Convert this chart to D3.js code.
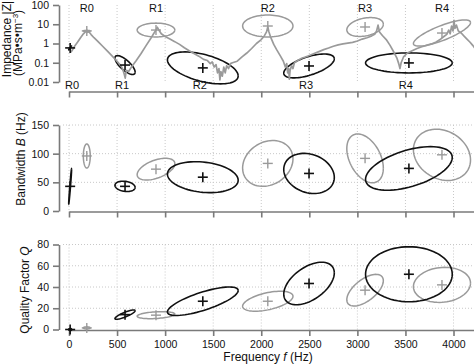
<!DOCTYPE html>
<html><head><meta charset="utf-8">
<script src="https://cdn.jsdelivr.net/npm/d3@7"></script>
<style>
html,body{margin:0;padding:0;background:#fff;}
svg{display:block;font-family:"Liberation Sans",Arial,Helvetica,sans-serif;}
</style></head>
<body>
<svg id="chart" width="474" height="364"></svg>
<script>
// ---------- data ----------
const freqTicks = [0, 500, 1000, 1500, 2000, 2500, 3000, 3500, 4000];
const zTicks = [0.01, 0.1, 1, 10, 100];
const zTickLabels = ["0.01", "0.1", "1", "10", "100"];
const bTicks = [0, 50, 100, 150];
const qTicks = [0, 20, 40, 60, 80];

const modeLabels = ["R0", "R1", "R2", "R3", "R4"];

// resonances (grey) and anti-resonances (black): centre frequency and spread (Hz)
const resFreq = [185, 905, 2068, 3080, 3880];
const resFreqSpread = [36, 196, 262, 190, 297];
const antiFreq = [12, 583, 1392, 2497, 3536];
const antiFreqSpread = [15, 105, 368, 263, 451];

// impedance panel (spread in decades)
const resZ = [4.5, 5.0, 8.1, 7.2, 3.5];
const resZSpread = [0.03, 0.36, 0.57, 0.49, 0.68];
const resZCorr = [0, 0, 0, 0.3, 0.8];
const antiZ = [0.59, 0.076, 0.054, 0.068, 0.098];
const antiZSpread = [0.1, 0.49, 0.83, 0.62, 0.52];
const antiZCorr = [0.95, -0.75, -0.5, 0.6, 0];

// bandwidth panel
const resB = [96, 73, 83, 91.8, 98];
const resBSpread = [21, 19, 40, 42.6, 44.7];
const resBCorr = [0, 0.5, 0.2, -0.4, -0.2];
const antiB = [43, 43, 59, 65.5, 74.3];
const antiBSpread = [30.5, 9, 27, 35, 38];
const antiBCorr = [0.97, -0.2, -0.2, -0.2, 0.5];

// quality factor panel
const resQ = [1.5, 13.5, 26.6, 37, 42];
const resQSpread = [1, 3.3, 9.4, 14.9, 16.5];
const resQCorr = [0, 0.3, 0.5, 0.6, 0.1];
const antiQ = [0, 14, 26.6, 43.3, 52];
const antiQSpread = [1, 4.4, 13.4, 20, 25.9];
const antiQCorr = [0, 0.85, 0.75, 0.5, 0];

// measured impedance curve
const impFreq = [20,40,60,90,120,150,170,185,195,205,230,260,300,350,400,450,500,540,560,575,585,592,600,620,650,700,750,800,850,880,905,918,930,960,1000,1050,1100,1150,1200,1250,1300,1350,1400,1440,1470,1490,1510,1530,1545,1560,1570,1580,1595,1610,1625,1640,1660,1680,1700,1750,1800,1850,1900,1950,2000,2030,2055,2068,2080,2100,2130,2160,2200,2230,2250,2265,2275,2285,2292,2300,2315,2330,2345,2380,2420,2460,2500,2550,2600,2650,2700,2750,2800,2850,2900,2950,3000,3050,3100,3150,3180,3200,3215,3230,3260,3300,3340,3380,3410,3430,3443,3455,3480,3520,3570,3620,3670,3720,3770,3820,3860,3900,3930,3950,3965,3980,3995,4005,4015,4030,4050,4080,4110,4140,4170,4200,4230];
const impMag = [0.35,0.5,0.75,1.2,2.0,3.2,4.0,4.6,3.8,4.2,2.9,2.0,1.3,0.72,0.40,0.22,0.12,0.07,0.045,0.025,0.016,0.03,0.04,0.035,0.06,0.13,0.3,0.75,1.8,3.2,5.0,7.0,5.5,3.2,2.3,1.7,1.25,0.9,0.6,0.42,0.3,0.22,0.15,0.13,0.09,0.11,0.06,0.08,0.03,0.05,0.013,0.035,0.02,0.06,0.03,0.07,0.05,0.09,0.1,0.12,0.2,0.32,0.55,1.0,1.6,2.4,4.0,7.2,4.0,2.0,0.9,0.48,0.22,0.12,0.06,0.09,0.03,0.05,0.014,0.04,0.07,0.05,0.1,0.13,0.17,0.2,0.24,0.3,0.38,0.48,0.58,0.72,0.85,0.95,1.05,1.15,1.35,1.7,2.0,2.5,3.0,4.5,9.0,4.0,2.6,1.6,0.8,0.35,0.18,0.09,0.05,0.1,0.2,0.32,0.42,0.55,0.68,0.8,0.95,1.2,1.6,2.3,3.0,5.0,3.2,8.0,4.5,16,6,9,4.5,3.5,2.4,1.7,1.2,0.8,0.5];

// ---------- drawing ----------
const GREY = "#9a9a9a", AXIS = "#7a7a7a", GRID = "#c8c8c8";
const svg = d3.select("#chart");

const x = d3.scaleLinear().domain([0, 4260]).range([69, 478.5]);
const yZ = d3.scaleLog().domain([0.01, 100]).range([82, 5]);
const yB = d3.scaleLinear().domain([0, 150]).range([211, 125]);
const yQ = d3.scaleLinear().domain([0, 80]).range([329.5, 244.5]);

const yAxisX = 59;
const panels = [
  {y: yZ, axisY: 91.5, ticks: zTicks, fmt: (d,i) => zTickLabels[i], hgrid: false, xlabels: false},
  {y: yB, axisY: 211.5, ticks: bTicks, fmt: d3.format("d"), hgrid: true, xlabels: false},
  {y: yQ, axisY: 330, ticks: qTicks, fmt: d3.format("d"), hgrid: true, xlabels: true}
];

panels.forEach(p => {
  const [y0, y1] = p.y.range();
  const g = svg.append("g");
  g.selectAll("line.vg").data(freqTicks).enter().append("line")
    .attr("x1", d => x(d)).attr("x2", d => x(d))
    .attr("y1", y1).attr("y2", y0)
    .attr("stroke", GRID).attr("stroke-width", 1).attr("stroke-dasharray", "1,2");
  if (p.hgrid) {
    g.selectAll("line.hg").data(p.ticks.filter(t => t > 0)).enter().append("line")
      .attr("x1", 63).attr("x2", 474)
      .attr("y1", d => p.y(d)).attr("y2", d => p.y(d))
      .attr("stroke", GRID).attr("stroke-width", 1).attr("stroke-dasharray", "1,2");
  }
  const ya = svg.append("g").attr("transform", `translate(${yAxisX},0)`)
    .call(d3.axisLeft(p.y).tickValues(p.ticks).tickFormat(p.fmt).tickSize(6).tickSizeOuter(0).tickPadding(4));
  const xa = svg.append("g").attr("transform", `translate(0,${p.axisY})`)
    .call(d3.axisBottom(x).tickValues(freqTicks).tickFormat(p.xlabels ? d3.format("d") : "").tickSize(6).tickSizeOuter(0).tickPadding(5));
  [ya, xa].forEach(a => {
    a.selectAll("path.domain").attr("stroke", AXIS).attr("stroke-width", 1.6);
    a.selectAll(".tick line").attr("stroke", AXIS).attr("stroke-width", 1.6);
    a.selectAll(".tick text").attr("fill", "#111").style("font-size", "10.5px").style("font-family", '"Liberation Sans",Arial,sans-serif');
  });
});

function ellipsePath(cf, sf, cv, sv, rho, yScale, isLog) {
  const pts = d3.range(0, 73).map(i => {
    const t = i / 72 * 2 * Math.PI;
    const f = cf + sf * Math.cos(t);
    const u = sv * (rho * Math.cos(t) + Math.sqrt(1 - rho * rho) * Math.sin(t));
    const v = isLog ? Math.pow(10, Math.log10(cv) + u) : cv + u;
    return [x(f), yScale(v)];
  });
  return d3.line()(pts);
}
function drawSet(freqs, fSpread, vals, vSpread, corr, yScale, isLog, color, width) {
  const g = svg.append("g");
  g.selectAll("path").data(freqs).enter().append("path")
    .attr("d", (d, i) => ellipsePath(d, fSpread[i], vals[i], vSpread[i], corr[i], yScale, isLog))
    .attr("fill", "none").attr("stroke", color).attr("stroke-width", width);
}
function drawCrosses(freqs, vals, yScale, color, width) {
  const g = svg.append("g");
  freqs.forEach((f, i) => {
    const cx = x(f), cy = yScale(vals[i]);
    g.append("line").attr("x1", cx - 5).attr("x2", cx + 5).attr("y1", cy).attr("y2", cy)
      .attr("stroke", color).attr("stroke-width", width);
    g.append("line").attr("x1", cx).attr("x2", cx).attr("y1", cy - 5).attr("y2", cy + 5)
      .attr("stroke", color).attr("stroke-width", width);
  });
}

drawSet(resFreq, resFreqSpread, resZ, resZSpread, resZCorr, yZ, true, GREY, 1.5);
drawSet(antiFreq, antiFreqSpread, antiZ, antiZSpread, antiZCorr, yZ, true, "#111", 1.6);
svg.append("path")
  .datum(impFreq.map((f, i) => [f, impMag[i]]))
  .attr("d", d3.line().x(d => x(d[0])).y(d => yZ(d[1])))
  .attr("fill", "none").attr("stroke", GREY).attr("stroke-width", 1.7).attr("stroke-linejoin", "round");
drawCrosses(resFreq, resZ, yZ, GREY, 1.4);
drawCrosses(antiFreq, antiZ, yZ, "#111", 1.6);

drawSet(resFreq, resFreqSpread, resB, resBSpread, resBCorr, yB, false, GREY, 1.5);
drawSet(antiFreq, antiFreqSpread, antiB, antiBSpread, antiBCorr, yB, false, "#111", 1.6);
drawCrosses(resFreq, resB, yB, GREY, 1.4);
drawCrosses(antiFreq, antiB, yB, "#111", 1.6);

drawSet(resFreq, resFreqSpread, resQ, resQSpread, resQCorr, yQ, false, GREY, 1.5);
drawSet(antiFreq, antiFreqSpread, antiQ, antiQSpread, antiQCorr, yQ, false, "#111", 1.6);
drawCrosses(resFreq, resQ, yQ, GREY, 1.4);
drawCrosses(antiFreq, antiQ, yQ, "#111", 1.6);

svg.append("g").selectAll("text").data(modeLabels).enter().append("text")
  .attr("x", (d, i) => x(resFreq[i])).attr("y", 12)
  .attr("text-anchor", "middle").style("font-size", "11px").attr("fill", "#111").text(d => d);
svg.append("g").selectAll("text").data(modeLabels).enter().append("text")
  .attr("x", (d, i) => x(antiFreq[i]) + (i === 0 ? 2 : -3)).attr("y", 89)
  .attr("text-anchor", "middle").style("font-size", "11px").attr("fill", "#111").text(d => d);

function vtitle(cx, cy, build) {
  const t = svg.append("text").attr("transform", `translate(${cx},${cy}) rotate(-90)`)
    .attr("text-anchor", "middle").style("font-size", "12px").attr("fill", "#111");
  build(t);
}
vtitle(11, 39, t => t.text("Impedance |Z|"));
vtitle(22, 43, t => {
  t.append("tspan").text("(MPa\u2022s\u2022m");
  t.append("tspan").attr("dy", -4).style("font-size", "8px").text("\u22123");
  t.append("tspan").attr("dy", 4).text(")");
});
vtitle(25, 159, t => {
  t.append("tspan").text("Bandwidth ");
  t.append("tspan").style("font-style", "italic").text("B");
  t.append("tspan").text(" (Hz)");
});
vtitle(29, 290, t => {
  t.append("tspan").text("Quality Factor ");
  t.append("tspan").style("font-style", "italic").text("Q");
});
const xt = svg.append("text").attr("x", 268).attr("y", 361).attr("text-anchor", "middle")
  .style("font-size", "12px").attr("fill", "#111");
xt.append("tspan").text("Frequency ");
xt.append("tspan").style("font-style", "italic").text("f");
xt.append("tspan").text(" (Hz)");
</script>
</body></html>
